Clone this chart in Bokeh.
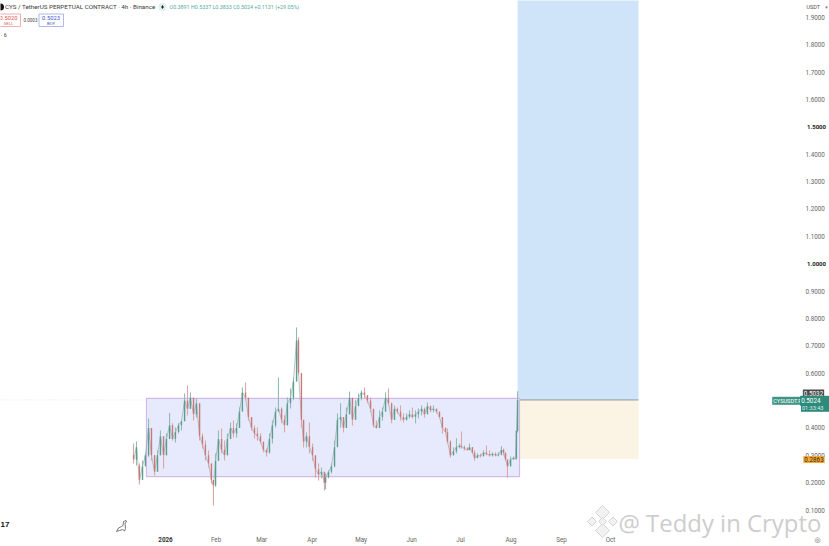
from bokeh.plotting import figure
from bokeh.embed import file_html
from bokeh.resources import INLINE
from bokeh.models import Label, FixedTicker

days = [-19.6,-17.8,-16,-14.1,-12.3,-10.4,-8.6,-6.7,-4.9,-3.1,
 -1.2,.6,2.5,4.3,6.1,8,9.8,11.7,13.5,15.3,
 17.2,19,20.9,22.7,24.5,26.4,28.2,29.4,30.7,32.5,
 34.4,36.2,38,39.9,41.7,43.6,45.4,47.2,49.1,50.9,
 52.8,54.6,56.4,58.3,60.1,62,63.8,65.6,67.5,69.3,
 71.2,73,74.8,76.7,78.5,80.4,81.6,83.4,84.7,86.5,
 88.3,90.2,92,93.9,95.7,97.5,98.2,100,101.8,103.7,
 105.5,107.4,109.2,111,112.9,114.7,116.6,118.4,120.2,122.1,
 123.9,125.8,127.6,129.4,131.3,133.1,135,136.8,138.7,140.5,
 142.3,144.2,146,147.9,149.7,151.5,153.4,155.2,157.1,158.9,
 160.7,162.6,164.4,166.3,168.1,169.9,171.8,173,174.8,176.7,
 178.5,180.4,181.6,183.4,185.3,186.5,188.3,189.6,191.4,193.3,
 195.1,196.9,198.8,200.6,202.5,204.3,206.1,207.4,208.6,209.8,
 211.7,213.5,214.7,215.3,216]
highs = [.343,.351,.270,.281,.310,.435,.400,.300,.318,.391,
 .370,.380,.456,.417,.402,.417,.427,.526,.555,.530,
 .510,.508,.490,.380,.354,.318,.270,.210,.307,.391,
 .398,.354,.380,.420,.427,.417,.475,.548,.566,.510,
 .440,.409,.402,.380,.350,.325,.380,.427,.475,.584,
 .475,.446,.511,.544,.584,.767,.731,.600,.430,.384,
 .420,.343,.300,.270,.256,.240,.234,.245,.270,.354,
 .453,.490,.440,.475,.533,.510,.501,.526,.537,.548,
 .520,.511,.470,.427,.464,.475,.530,.544,.493,.482,
 .475,.482,.453,.453,.464,.475,.464,.471,.482,.475,
 .493,.482,.482,.471,.460,.440,.402,.398,.354,.329,
 .362,.343,.387,.336,.329,.343,.330,.318,.307,.307,
 .318,.336,.318,.311,.311,.311,.333,.325,.310,.285,
 .296,.296,.292,.392,.5337]
lows = [.270,.263,.194,.223,.260,.295,.281,.226,.240,.300,
 .252,.300,.360,.354,.347,.380,.391,.425,.446,.471,
 .427,.438,.354,.325,.281,.256,.197,.117,.185,.280,
 .307,.281,.300,.360,.365,.365,.400,.460,.501,.427,
 .391,.362,.354,.343,.311,.296,.307,.343,.402,.460,
 .417,.384,.410,.471,.501,.570,.592,.402,.329,.329,
 .307,.281,.219,.208,.216,.172,.176,.216,.234,.256,
 .330,.402,.384,.400,.450,.409,.430,.480,.501,.508,
 .490,.457,.402,.398,.400,.427,.460,.482,.417,.430,
 .453,.427,.420,.427,.435,.435,.417,.435,.446,.438,
 .450,.457,.457,.453,.435,.380,.380,.343,.292,.300,
 .307,.325,.325,.318,.318,.318,.307,.281,.290,.292,
 .296,.300,.296,.296,.296,.296,.300,.300,.281,.219,
 .260,.285,.285,.285,.3833]
opens = [.300,.285,.262,.210,.260,.300,.400,.300,.240,.300,
 .370,.300,.360,.410,.360,.385,.410,.425,.500,.470,
 .510,.450,.490,.370,.340,.300,.270,.210,.190,.280,
 .360,.320,.300,.360,.400,.380,.400,.460,.530,.510,
 .440,.400,.380,.370,.350,.320,.310,.360,.410,.460,
 .470,.430,.410,.490,.510,.570,.720,.600,.430,.350,
 .370,.330,.300,.250,.230,.240,.200,.220,.240,.260,
 .330,.430,.440,.400,.450,.510,.430,.480,.510,.530,
 .520,.500,.470,.410,.400,.440,.460,.510,.490,.430,
 .470,.460,.440,.430,.440,.450,.440,.450,.460,.470,
 .450,.480,.465,.470,.460,.440,.400,.385,.350,.300,
 .315,.330,.335,.330,.325,.320,.330,.310,.290,.300,
 .297,.310,.305,.300,.305,.300,.303,.320,.310,.285,
 .260,.285,.290,.289,.3891]
closes = [.285,.330,.210,.260,.300,.400,.300,.240,.300,.370,
 .300,.360,.410,.360,.385,.410,.425,.500,.470,.510,
 .450,.490,.370,.340,.300,.270,.210,.190,.280,.360,
 .320,.300,.360,.400,.380,.400,.460,.530,.510,.440,
 .400,.380,.370,.350,.320,.310,.360,.410,.460,.470,
 .430,.410,.490,.510,.570,.720,.600,.430,.350,.370,
 .330,.300,.250,.230,.240,.200,.220,.240,.260,.330,
 .430,.440,.400,.450,.510,.430,.480,.510,.530,.520,
 .500,.470,.410,.400,.440,.460,.510,.490,.430,.470,
 .460,.440,.430,.440,.450,.440,.450,.460,.470,.450,
 .480,.465,.470,.460,.440,.400,.385,.350,.300,.315,
 .330,.335,.330,.325,.320,.330,.310,.290,.300,.297,
 .310,.305,.300,.305,.300,.303,.320,.310,.285,.260,
 .285,.290,.289,.3891,.5024]

price_ticks = [.1,.2,.3,.4,.6,.7,.8,.9,1.1,1.2,1.3,1.4,1.6,1.7,1.8,1.9]
bold_ticks = [1.0, 1.5]
month_days = [31,59,90,120,151,181,212,243,273]
month_names = ["Feb","Mar","Apr","May","Jun","Jul","Aug","Sep","Oct"]
box_left, box_right, box_top, box_bottom = -11.7, 217.2, .508, .2225
rr_left, rr_right, rr_entry, rr_target, rr_stop = 216, 290.2, .5024, 2.2, .2863

W, H = 829, 546
def dx(px): return (px - 165) / 1.63
def dy(py): return (537 - py) / 273.8

p = figure(width=W, height=H, output_backend="svg", toolbar_location=None,
           x_range=(dx(0), dx(W)), y_range=(dy(H), dy(0)),
           min_border=0, y_axis_location="right",
           background_fill_color="white", border_fill_color="white",
           outline_line_color=None)
p.grid.visible = False
FONT = "Roboto"
for ax in (p.xaxis[0], p.yaxis[0]):
    ax.axis_line_color = None
    ax.major_tick_line_color = None
    ax.minor_tick_line_color = None
    ax.major_label_text_font = FONT
    ax.major_label_text_font_size = "6.3px"
    ax.major_label_text_color = "#666666"
p.yaxis[0].fixed_location = dx(795)
p.xaxis[0].fixed_location = dy(525)
p.yaxis[0].ticker = FixedTicker(ticks=price_ticks)
p.yaxis[0].major_label_overrides = {t: f"{t:.4f}" for t in price_ticks}
p.yaxis[0].major_label_standoff = 4
p.xaxis[0].ticker = FixedTicker(ticks=month_days)
p.xaxis[0].major_label_overrides = dict(zip(month_days, month_names))
p.xaxis[0].major_label_standoff = 4

# risk / reward areas
p.quad(left=[rr_left], right=[rr_right], top=[rr_target], bottom=[rr_entry],
       fill_color="#cfe3f9", line_color=None)
p.quad(left=[rr_left], right=[rr_right], top=[rr_entry], bottom=[rr_stop],
       fill_color="#fbf3e3", line_color=None)
p.line([rr_left, rr_right], [rr_entry, rr_entry], line_color="#8f9aa6", line_width=1)
p.line([dx(0), rr_left], [rr_entry, rr_entry], line_color="#d9d9d9", line_width=0.7, line_dash="1 2")
# range box
p.quad(left=[box_left], right=[box_right], top=[box_top], bottom=[box_bottom],
       fill_color="#e6eafc", line_color="#d3b8ec", line_width=1.1)

# thin joined trace under the candles gives the dense look of the 4h series
p.line(days, closes, line_color="#8a9c98", line_width=0.9, line_alpha=0.65)
up_i = [i for i in range(len(days)) if closes[i] >= opens[i]]
dn_i = [i for i in range(len(days)) if closes[i] < opens[i]]
for idx, col, wick in ((up_i, "#5aa395", "#9ac8be"), (dn_i, "#d97a7c", "#eeb0b2")):
    xs = [days[i] for i in idx]
    p.segment(xs, [highs[i] for i in idx], xs, [lows[i] for i in idx], line_color=wick, line_width=1.1)
    p.vbar(x=xs, width=0.85, top=[max(opens[i], closes[i]) for i in idx],
           bottom=[min(opens[i], closes[i]) for i in idx], fill_color=col, line_color=None)
p.segment(days, highs, days, lows, line_color="#6f7f7c", line_width=0.35, line_alpha=0.5)

def lab(text, px, py, size=6.5, color="#333333", align="left", style="normal", bg=None, font=FONT, pad=0):
    kw = {}
    if bg:
        kw.update(background_fill_color=bg, padding=pad)
    p.add_layout(Label(x=dx(px), y=dy(py), text=text, text_font=font, text_font_size=f"{size}px",
                       text_color=color, text_align=align, text_baseline="middle",
                       text_font_style=style, **kw))

for t in bold_ticks:
    lab(f"{t:.4f}", 806.5, 537 - t * 273.8, size=6, color="#222222", style="bold")
lab("2026", 165, 539, size=6.3, color="#333333", align="center", style="bold")

# header
p.scatter([dx(0)], [dy(6.5)], size=7, marker="circle", fill_color="#111111", line_color=None)
lab("CYS / TetherUS PERPETUAL CONTRACT · 4h · Binance", 4.5, 6.5, size=6.25, color="#3a3a3a")
p.scatter([dx(162)], [dy(6.5)], size=8, marker="circle", fill_color="#dff0ee", line_color=None)
p.scatter([dx(162)], [dy(6.5)], size=4, marker="diamond", fill_color="#222222", line_color=None)
ohlc = "O0.3891 H0.5337 L0.3833 C0.5024 +0.1131 (+29.05%)"
lab(ohlc, 169, 6.5, size=5.35, color="#57a99b")

# order buttons
p.quad(left=[dx(-4)], right=[dx(20)], top=[dy(13.5)], bottom=[dy(26)], fill_color="white", line_color="#ee9a9a", line_width=0.8)
p.quad(left=[dx(38.5)], right=[dx(63)], top=[dy(13.5)], bottom=[dy(26)], fill_color="white", line_color="#9aa5e8", line_width=0.8)
lab("0.5020", 8, 17, size=5.8, color="#e0524f", align="center")
lab("SELL", 8, 22.5, size=4.2, color="#e0524f", align="center")
lab("0.0003", 30, 19.5, size=4.5, color="#444444", align="center")
lab("0.5023", 50.5, 17, size=5.8, color="#3f51c7", align="center")
lab("BUY", 50.5, 22.5, size=4.2, color="#3f51c7", align="center")
lab("· 6", 0.5, 34, size=5.5, color="#444444")
lab("17", 0, 524, size=8, color="#111111", style="bold", font="Liberation Sans")
lab("USDT", 806, 6.5, size=5.5, color="#555555")
lab("▾", 826, 6.5, size=5, color="#777777", align="center", font="DejaVu Sans")

# price tags
lab("0.5032", 813, 392.5, size=6.3, color="white", align="center", bg="#4a4a4a", pad=1)
lab("CYSUSDT.P", 787, 400.3, size=5.6, color="white", align="center", bg="#3f9484", pad=1)
lab("   0.5024   ", 815, 400.3, size=6.3, color="white", align="center", bg="#2e8b7b", pad=1)
lab("  01:33:43  ", 815, 407.3, size=5.6, color="#d6efe9", align="center", bg="#2e8b7b", pad=1)
lab("0.2863", 813.5, 459, size=6.3, color="#3a2a00", align="center", bg="#f2a93b", pad=1)

# watermark logo: five diamonds
logo_cx = [602, 591.5, 612.5, 602, 602]
logo_cy = [512, 521, 521, 530, 521]
logo_r = [7, 4.5, 4.5, 7, 4]
p.patches([[dx(c - r), dx(c), dx(c + r), dx(c)] for c, r in zip(logo_cx, logo_r)],
          [[dy(c), dy(c - r), dy(c), dy(c + r)] for c, r in zip(logo_cy, logo_r)],
          fill_color="#f1f1f1", line_color="#d4d4d4", line_width=1)
lab("@ Teddy in Crypto", 618, 522, size=23.9, color="#cdcdcd", font="Open Sans")

# doodle & settings icon
tx = [116, 118, 121, 122.5, 123, 125.5, 126, 124.5, 125, 124, 122, 119, 116]
ty = [531, 527.5, 526, 525, 521, 520, 521.5, 522.5, 528, 530.5, 529, 530, 531]
p.line([dx(v) for v in tx], [dy(v) for v in ty], line_color="#555555", line_width=0.8)
lab("◎", 817, 539.5, size=7, color="#555555", align="center", font="DejaVu Sans")

open("out.html", "w").write(file_html(p, INLINE))
